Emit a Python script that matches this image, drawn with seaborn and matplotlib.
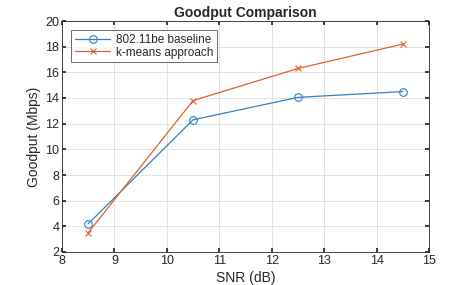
import seaborn as sns
import matplotlib.pyplot as plt

# ---- Data ----
snr = [8.5, 10.5, 12.5, 14.5]
baseline = [4.2, 12.3, 14.05, 14.5]
kmeans = [3.5, 13.8, 16.3, 18.2]
labels = ['802.11be baseline', 'k-means approach']

sns.set_theme(style='whitegrid')
plt.rcParams['font.family'] = ['Liberation Sans', 'DejaVu Sans']

fig = plt.figure(figsize=(4.74, 2.85), dpi=100)
ax = fig.add_axes([62 / 474, 1 - 252 / 285, 367 / 474, 231 / 285])

blue = '#2f80c4'
orange = '#e0602a'

# ---- Lines ----
sns.lineplot(x=snr, y=baseline, label=labels[0], color=blue,
             marker='o', markersize=5.5, markerfacecolor='none',
             markeredgecolor=blue, markeredgewidth=0.8,
             linewidth=0.9, ax=ax)
sns.lineplot(x=snr, y=kmeans, label=labels[1], color=orange,
             marker='x', markersize=4, markeredgecolor=orange,
             markeredgewidth=0.8, linewidth=0.9, ax=ax)

ax.set_xlim(8, 15)
ax.set_ylim(2, 20)
ax.set_xticks(range(8, 16))
ax.set_yticks(range(2, 21, 2))
ax.grid(True, color='#dedede', linewidth=0.6)
for s in ax.spines.values():
    s.set_color('#262626')
    s.set_linewidth(0.6)
ax.tick_params(direction='in', length=3, labelsize=9, colors='#262626',
               left=True, bottom=True, top=True, right=True,
               labeltop=False, labelright=False, pad=2)
ax.set_xlabel('SNR (dB)', fontsize=10, color='#262626', labelpad=3)
ax.set_ylabel('Goodput (Mbps)', fontsize=10, color='#262626', labelpad=3)
ax.set_title('Goodput Comparison', fontsize=10, fontweight='bold', pad=3)

leg = ax.legend(loc='upper left', fontsize=8.5, frameon=True, fancybox=False,
                edgecolor='#262626', borderpad=0.3, handlelength=3.0,
                handletextpad=0.5, labelspacing=0.05, borderaxespad=0.8)
leg.get_frame().set_linewidth(0.6)

fig.savefig('out.png', dpi=100)
